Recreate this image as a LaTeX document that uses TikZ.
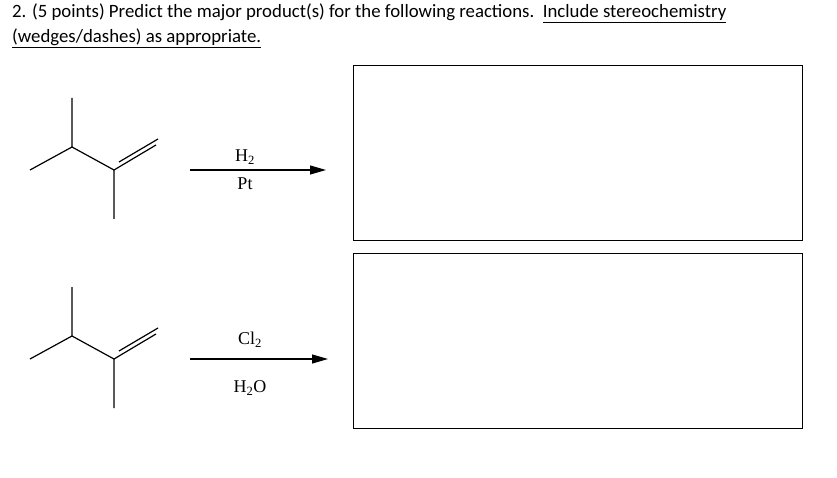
\documentclass[tikz,border=0pt]{standalone}
\usepackage{fontspec}
\setmainfont{Carlito}
\newfontfamily\chem{Liberation Serif}
\usetikzlibrary{arrows.meta}
\begin{document}
\begin{tikzpicture}[x=1pt,y=-1pt,
  bond/.style={line width=1.2pt},
  rxn/.style={line width=1.1pt,-{Triangle[length=16pt,width=9pt]}},
  box/.style={draw,line width=1pt},
  reag/.style={font=\chem\fontsize{18}{18}\selectfont,inner sep=0pt},
  title/.style={font=\fontsize{18.8}{22}\selectfont,anchor=west,inner sep=0pt}]
\useasboundingbox (0,0) rectangle (837,478);
\node[title] (t1) at (12,13) {2. (5 points) Predict the major product(s) for the following reactions.\ \ \underline{Include stereochemistry}};
\node[title] (t2) at (12,38) {\underline{(wedges/dashes) as appropriate.}};
\foreach \dy/\n in {0/a,189/b}{
  \coordinate (\n1) at (72,98+\dy);
  \coordinate (\n2) at (72,147+\dy);
  \coordinate (\n3) at (30,170+\dy);
  \coordinate (\n4) at (114,170+\dy);
  \coordinate (\n5) at (114,219+\dy);
  \coordinate (\n6) at (156,145+\dy);
  \coordinate (\n7) at (119,162+\dy);
  \coordinate (\n8) at (158,139+\dy);
  \draw[bond] (\n1)--(\n2)--(\n3) (\n2)--(\n4)--(\n5) (\n4)--(\n6) (\n7)--(\n8);
}
\coordinate (s1) at (190,170); \coordinate (e1) at (326,170);
\draw[rxn] (s1)--(e1);
\node[reag] (h2) at (245,157) {H\textsubscript{2}};
\node[reag] (pt) at (245,184) {Pt};
\coordinate (s2) at (190,359); \coordinate (e2) at (328,359);
\draw[rxn] (s2)--(e2);
\node[reag] (cl2) at (250,340) {Cl\textsubscript{2}};
\node[reag] (h2o) at (250,388) {H\textsubscript{2}O};
\node[box,minimum width=449pt,minimum height=175pt,anchor=north west] (b1) at (353,65) {};
\node[box,minimum width=449pt,minimum height=175pt,anchor=north west] (b2) at (353,253) {};
\end{tikzpicture}
\end{document}
